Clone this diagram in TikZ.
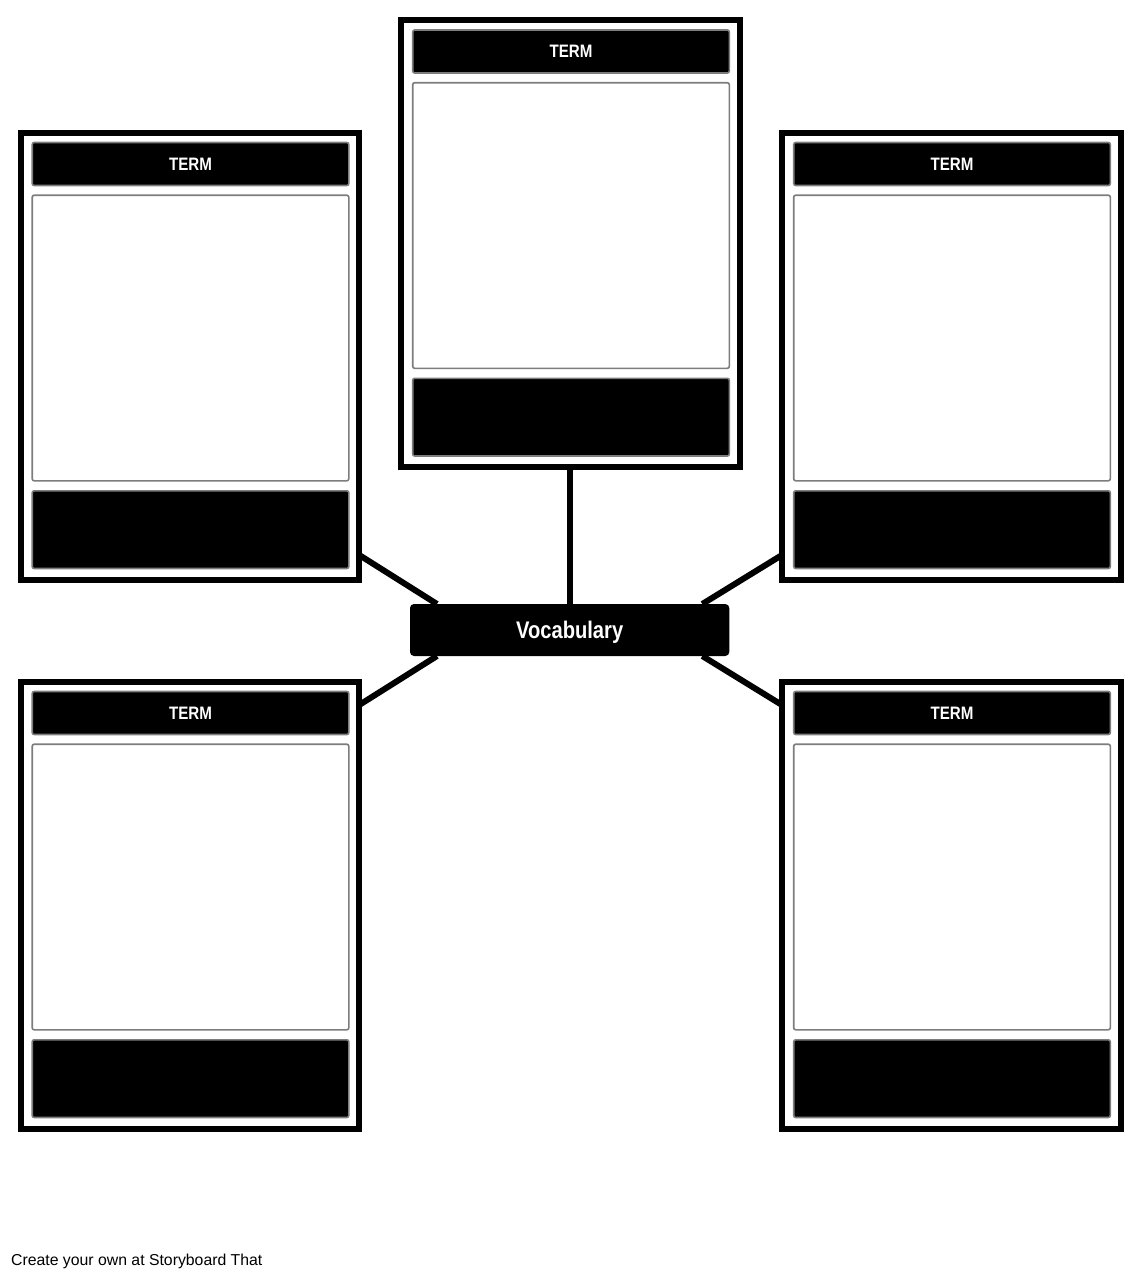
\documentclass[tikz,border=0pt]{standalone}
\usepackage{fontspec}
\setmainfont{Liberation Sans}
\newfontfamily\condfont[FakeStretch=0.84]{Liberation Sans}
\usetikzlibrary{calc}
\definecolor{edgegray}{RGB}{125,125,125}
\tikzset{
  cardframe/.style={draw=black, line width=6pt, fill=white, inner sep=0pt, outer sep=0pt,
    minimum width=338.7pt, minimum height=447pt, anchor=north west},
  hdrbox/.style={draw=edgegray, fill=black, line width=1.6pt, rounded corners=2pt,
    inner sep=0pt, outer sep=0pt, minimum width=316.6pt, minimum height=43pt, anchor=north west,
    text=white, font=\condfont\bfseries\fontsize{18}{20}\selectfont, text height=12.9pt, text depth=0pt},
  imgbox/.style={draw=edgegray, fill=white, line width=1.6pt, rounded corners=2pt,
    inner sep=0pt, outer sep=0pt, minimum width=316.6pt, minimum height=285.6pt, anchor=north west},
  capbox/.style={draw=edgegray, fill=black, line width=1.6pt, rounded corners=2pt,
    inner sep=0pt, outer sep=0pt, minimum width=316.6pt, minimum height=77.7pt, anchor=north west},
  centerbox/.style={fill=black, rounded corners=4pt, inner sep=0pt, outer sep=0pt,
    minimum width=319.3pt, minimum height=52pt, text=white,
    font=\condfont\bfseries\fontsize{24}{28}\selectfont, text height=17pt, text depth=0pt},
  conn/.style={draw=black, line width=6pt},
}
\newcommand{\vocabcard}[3]{%
  \node[cardframe] (#1) at (#2,#3) {};
  \node[hdrbox] (#1h) at ($(#1.north west)+(11.7,10)$) {TERM};
  \node[imgbox] (#1i) at ($(#1.north west)+(11.7,62.7)$) {};
  \node[capbox] (#1c) at ($(#1.north west)+(11.7,358.3)$) {};
}
\begin{document}
\begin{tikzpicture}[x=1pt,y=-1pt]
  \fill[white] (0,0) rectangle (1143,1278);
  \useasboundingbox (0,0) rectangle (1143,1278);
  \vocabcard{T}{401}{20}
  \vocabcard{LA}{20.5}{132.5}
  \vocabcard{RA}{782}{132.5}
  \vocabcard{LB}{20.5}{681.5}
  \vocabcard{RB}{782}{681.5}
  \node[centerbox, anchor=north west] (voc) at (410,604) {Vocabulary};
  \draw[conn] (T.south) -- (T.south |- voc.north);
  \draw[conn] ([yshift=24.5pt]LA.south east) -- ([xshift=27pt]voc.north west);
  \draw[conn] ([yshift=24.5pt]RA.south west) -- ([xshift=-27pt]voc.north east);
  \draw[conn] ([yshift=-23.5pt]LB.north east) -- ([xshift=27pt]voc.south west);
  \draw[conn] ([yshift=-23.5pt]RB.north west) -- ([xshift=-27pt]voc.south east);
  \node[anchor=base west, inner sep=0pt, font=\fontsize{15.8}{18}\selectfont] (foot) at (11,1265) {Create your own at Storyboard That};
\end{tikzpicture}
\end{document}
